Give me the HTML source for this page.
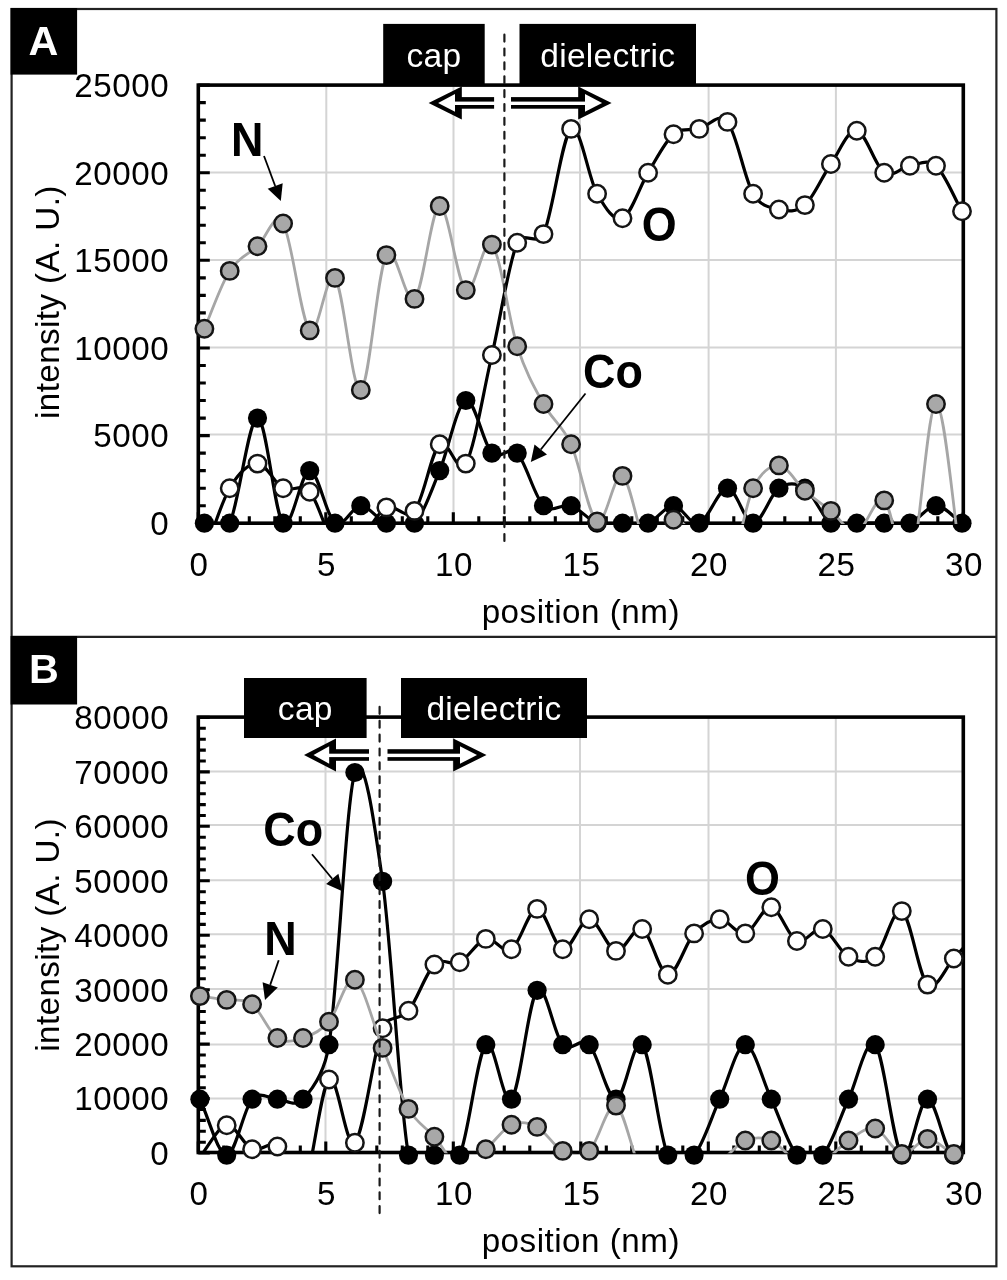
<!DOCTYPE html>
<html><head><meta charset="utf-8"><title>Figure</title>
<style>html,body{margin:0;padding:0;background:#fff}svg{display:block;filter:blur(0.55px)}</style></head>
<body>
<svg width="1007" height="1280" viewBox="0 0 1007 1280" font-family='"Liberation Sans", Arial, Helvetica, sans-serif' fill="#000">
<rect width="1007" height="1280" fill="#fff"/>
<rect x="11.6" y="9" width="984.8" height="1257.3" fill="none" stroke="#222" stroke-width="2.2"/>
<path d="M11.6,636.8H996.4" stroke="#222" stroke-width="2.2"/>
<rect x="10.6" y="8" width="66.5" height="66.6" fill="#000"/><text x="43.4" y="55.3" font-size="41.3" font-weight="bold" fill="#fff" text-anchor="middle">A</text>
<rect x="10.6" y="636" width="66.5" height="68.5" fill="#000"/><text x="43.9" y="683" font-size="41.3" font-weight="bold" fill="#fff" text-anchor="middle">B</text>
<clipPath id="clipA"><rect x="198.3" y="65.1" width="777.0" height="459.6"/></clipPath>
<clipPath id="cliplA"><rect x="198.3" y="85.1" width="765.0" height="438.90000000000003"/></clipPath>
<path d="M198.3,434.6H963.3 M198.3,347.6H963.3 M198.3,260.1H963.3 M198.3,172.4H963.3 M326.3,85.1V523.2 M453.5,85.1V523.2 M580.0,85.1V523.2 M708.6,85.1V523.2 M835.9,85.1V523.2" stroke="#d4d4d4" stroke-width="2" fill="none"/>
<path d="M198.3,523.2h11.5 M198.3,505.7h7.5 M198.3,488.2h7.5 M198.3,470.6h7.5 M198.3,453.1h7.5 M198.3,435.6h11.5 M198.3,418.1h7.5 M198.3,400.5h7.5 M198.3,383.0h7.5 M198.3,365.5h7.5 M198.3,348.0h11.5 M198.3,330.4h7.5 M198.3,312.9h7.5 M198.3,295.4h7.5 M198.3,277.9h7.5 M198.3,260.3h11.5 M198.3,242.8h7.5 M198.3,225.3h7.5 M198.3,207.8h7.5 M198.3,190.2h7.5 M198.3,172.7h11.5 M198.3,155.2h7.5 M198.3,137.7h7.5 M198.3,120.1h7.5 M198.3,102.6h7.5 M198.3,85.1h11.5 M198.3,523.2v-11 M223.8,523.2v-7 M249.3,523.2v-7 M274.8,523.2v-7 M300.3,523.2v-7 M325.8,523.2v-11 M351.3,523.2v-7 M376.8,523.2v-7 M402.3,523.2v-7 M427.8,523.2v-7 M453.3,523.2v-11 M478.8,523.2v-7 M504.3,523.2v-7 M529.8,523.2v-7 M555.3,523.2v-7 M580.8,523.2v-11 M606.3,523.2v-7 M631.8,523.2v-7 M657.3,523.2v-7 M682.8,523.2v-7 M708.3,523.2v-11 M733.8,523.2v-7 M759.3,523.2v-7 M784.8,523.2v-7 M810.3,523.2v-7 M835.8,523.2v-11 M861.3,523.2v-7 M886.8,523.2v-7 M912.3,523.2v-7 M937.8,523.2v-7 M963.3,523.2v-11" stroke="#000" stroke-width="3.1" fill="none"/>
<rect x="198.3" y="85.1" width="765.0" height="438.1" fill="none" stroke="#000" stroke-width="3.6"/>
<path d="M204.4,523.2 C212.8,523.2 224.0,534.5 229.7,523.2 C238.5,505.7 248.6,418.1 257.5,418.1 C266.4,418.1 274.4,514.4 283.1,523.2 C291.8,532.0 301.1,470.6 309.7,470.6 C318.3,470.6 326.5,517.4 335.0,523.2 C343.5,529.0 352.2,505.7 360.8,505.7 C369.4,505.7 377.4,520.3 386.4,523.2 C395.3,526.1 405.6,532.0 414.5,523.2 C423.4,514.4 431.1,491.1 439.7,470.6 C448.2,450.2 457.1,403.5 465.8,400.5 C474.5,397.6 483.3,444.3 491.9,453.1 C500.5,461.9 508.6,444.3 517.2,453.1 C525.8,461.9 534.5,496.9 543.5,505.7 C552.5,514.4 562.2,502.8 571.1,505.7 C580.0,508.6 588.5,520.3 597.1,523.2 C605.7,526.1 614.0,523.2 622.5,523.2 C631.0,523.2 639.6,526.1 648.1,523.2 C656.6,520.3 665.0,505.7 673.5,505.7 C682.0,505.7 690.2,526.1 699.2,523.2 C708.2,520.3 718.5,488.2 727.5,488.2 C736.5,488.2 744.5,523.2 753.1,523.2 C761.7,523.2 770.3,494.0 778.9,488.2 C787.5,482.3 796.2,482.3 804.9,488.2 C813.6,494.0 822.2,517.4 830.9,523.2 C839.5,529.0 847.9,523.2 856.8,523.2 C865.7,523.2 875.4,523.2 884.2,523.2 C893.1,523.2 901.3,526.1 909.9,523.2 C918.5,520.3 927.3,505.7 936.0,505.7 C944.7,505.7 953.3,517.4 962.0,523.2" stroke="#000" stroke-width="3.2" fill="none" stroke-linejoin="round" clip-path="url(#cliplA)"/>
<g fill="#000"><circle cx="204.4" cy="523.2" r="9.6"/><circle cx="229.7" cy="523.2" r="9.6"/><circle cx="257.5" cy="418.1" r="9.6"/><circle cx="283.1" cy="523.2" r="9.6"/><circle cx="309.7" cy="470.6" r="9.6"/><circle cx="335.0" cy="523.2" r="9.6"/><circle cx="360.8" cy="505.7" r="9.6"/><circle cx="386.4" cy="523.2" r="9.6"/><circle cx="414.5" cy="523.2" r="9.6"/><circle cx="439.7" cy="470.6" r="9.6"/><circle cx="465.8" cy="400.5" r="9.6"/><circle cx="491.9" cy="453.1" r="9.6"/><circle cx="517.2" cy="453.1" r="9.6"/><circle cx="543.5" cy="505.7" r="9.6"/><circle cx="571.1" cy="505.7" r="9.6"/><circle cx="597.1" cy="523.2" r="9.6"/><circle cx="622.5" cy="523.2" r="9.6"/><circle cx="648.1" cy="523.2" r="9.6"/><circle cx="673.5" cy="505.7" r="9.6"/><circle cx="699.2" cy="523.2" r="9.6"/><circle cx="727.5" cy="488.2" r="9.6"/><circle cx="753.1" cy="523.2" r="9.6"/><circle cx="778.9" cy="488.2" r="9.6"/><circle cx="804.9" cy="488.2" r="9.6"/><circle cx="830.9" cy="523.2" r="9.6"/><circle cx="856.8" cy="523.2" r="9.6"/><circle cx="884.2" cy="523.2" r="9.6"/><circle cx="909.9" cy="523.2" r="9.6"/><circle cx="936.0" cy="505.7" r="9.6"/><circle cx="962.0" cy="523.2" r="9.6"/></g>
<path d="M204.4,553.9 C212.8,532.0 220.8,503.2 229.7,488.2 C238.5,473.1 248.6,463.6 257.5,463.6 C266.4,463.6 274.4,483.5 283.1,488.2 C291.8,492.8 301.1,482.3 309.7,491.7 C318.3,501.0 326.5,536.6 335.0,544.2 C343.5,551.8 352.2,543.4 360.8,537.2 C369.4,531.1 377.4,511.8 386.4,507.4 C395.3,503.0 405.6,521.4 414.5,510.9 C423.4,500.4 431.1,452.2 439.7,444.3 C448.2,436.5 457.6,477.6 465.8,463.6 C474.5,448.7 483.3,391.8 491.9,355.0 C500.5,318.2 508.6,263.0 517.2,242.8 C522.6,230.1 537.6,246.6 543.5,234.1 C552.5,215.1 562.2,135.6 571.1,128.9 C580.0,122.2 588.5,178.9 597.1,193.7 C605.7,208.6 614.0,221.8 622.5,218.3 C631.0,214.8 639.6,186.7 648.1,172.7 C656.6,158.7 665.0,141.5 673.5,134.2 C682.0,126.9 690.2,131.0 699.2,128.9 C708.2,126.9 718.5,111.1 727.5,121.9 C736.5,132.7 744.5,179.1 753.1,193.7 C760.8,206.8 770.3,207.6 778.9,209.5 C787.5,211.4 796.2,212.7 804.9,205.1 C813.6,197.5 822.2,176.4 830.9,164.0 C839.5,151.5 847.9,129.2 856.8,130.7 C865.7,132.1 875.4,166.9 884.2,172.7 C893.1,178.6 901.3,166.9 909.9,165.7 C918.5,164.5 927.3,158.1 936.0,165.7 C944.7,173.3 953.3,196.1 962.0,211.3" stroke="#000" stroke-width="3.2" fill="none" stroke-linejoin="round" clip-path="url(#cliplA)"/>
<g fill="#fff" stroke="#151515" stroke-width="2.5"><circle cx="229.7" cy="488.2" r="8.7"/><circle cx="257.5" cy="463.6" r="8.7"/><circle cx="283.1" cy="488.2" r="8.7"/><circle cx="309.7" cy="491.7" r="8.7"/><circle cx="386.4" cy="507.4" r="8.7"/><circle cx="414.5" cy="510.9" r="8.7"/><circle cx="439.7" cy="444.3" r="8.7"/><circle cx="465.8" cy="463.6" r="8.7"/><circle cx="491.9" cy="355.0" r="8.7"/><circle cx="517.2" cy="242.8" r="8.7"/><circle cx="543.5" cy="234.1" r="8.7"/><circle cx="571.1" cy="128.9" r="8.7"/><circle cx="597.1" cy="193.7" r="8.7"/><circle cx="622.5" cy="218.3" r="8.7"/><circle cx="648.1" cy="172.7" r="8.7"/><circle cx="673.5" cy="134.2" r="8.7"/><circle cx="699.2" cy="128.9" r="8.7"/><circle cx="727.5" cy="121.9" r="8.7"/><circle cx="753.1" cy="193.7" r="8.7"/><circle cx="778.9" cy="209.5" r="8.7"/><circle cx="804.9" cy="205.1" r="8.7"/><circle cx="830.9" cy="164.0" r="8.7"/><circle cx="856.8" cy="130.7" r="8.7"/><circle cx="884.2" cy="172.7" r="8.7"/><circle cx="909.9" cy="165.7" r="8.7"/><circle cx="936.0" cy="165.7" r="8.7"/><circle cx="962.0" cy="211.3" r="8.7"/></g>
<path d="M204.4,328.7 C212.8,309.4 220.8,284.6 229.7,270.9 C238.5,257.1 248.6,254.2 257.5,246.3 C266.4,238.4 274.4,209.5 283.1,223.5 C291.8,237.6 301.1,321.4 309.7,330.4 C318.3,339.5 326.5,267.9 335.0,277.9 C343.5,287.8 352.2,393.8 360.8,390.0 C369.4,386.2 377.4,270.3 386.4,255.1 C395.3,239.9 405.6,307.1 414.5,298.9 C423.4,290.7 431.1,207.5 439.7,206.0 C448.2,204.6 457.1,283.7 465.8,290.1 C474.5,296.6 483.3,235.2 491.9,244.6 C500.5,253.9 508.6,319.6 517.2,346.2 C525.8,372.8 534.5,387.7 543.5,404.0 C552.5,420.4 562.2,424.8 571.1,444.3 C580.0,463.9 588.5,516.2 597.1,521.4 C605.7,526.7 614.0,471.2 622.5,475.9 C631.0,480.6 639.6,542.2 648.1,549.5 C656.6,556.8 665.0,521.2 673.5,519.7 C682.0,518.2 690.2,532.0 699.2,540.7 C708.2,549.5 718.5,581.0 727.5,572.3 C736.5,563.5 744.5,506.0 753.1,488.2 C760.6,472.6 770.3,464.9 778.9,465.4 C787.5,465.8 796.2,483.2 804.9,490.8 C813.6,498.4 822.2,504.1 830.9,510.9 C839.5,517.8 847.9,533.7 856.8,532.0 C865.7,530.2 875.4,494.0 884.2,500.4 C893.1,506.8 901.3,586.6 909.9,570.5 C918.5,554.5 927.3,404.3 936.0,404.0 C944.7,403.7 953.3,513.9 962.0,568.8" stroke="#a6a6a6" stroke-width="2.8" fill="none" stroke-linejoin="round" clip-path="url(#cliplA)"/>
<g fill="#a8a8a8" stroke="#151515" stroke-width="2.5"><circle cx="204.4" cy="328.7" r="8.7"/><circle cx="229.7" cy="270.9" r="8.7"/><circle cx="257.5" cy="246.3" r="8.7"/><circle cx="283.1" cy="223.5" r="8.7"/><circle cx="309.7" cy="330.4" r="8.7"/><circle cx="335.0" cy="277.9" r="8.7"/><circle cx="360.8" cy="390.0" r="8.7"/><circle cx="386.4" cy="255.1" r="8.7"/><circle cx="414.5" cy="298.9" r="8.7"/><circle cx="439.7" cy="206.0" r="8.7"/><circle cx="465.8" cy="290.1" r="8.7"/><circle cx="491.9" cy="244.6" r="8.7"/><circle cx="517.2" cy="346.2" r="8.7"/><circle cx="543.5" cy="404.0" r="8.7"/><circle cx="571.1" cy="444.3" r="8.7"/><circle cx="597.1" cy="521.4" r="8.7"/><circle cx="622.5" cy="475.9" r="8.7"/><circle cx="673.5" cy="519.7" r="8.7"/><circle cx="753.1" cy="488.2" r="8.7"/><circle cx="778.9" cy="465.4" r="8.7"/><circle cx="804.9" cy="490.8" r="8.7"/><circle cx="830.9" cy="510.9" r="8.7"/><circle cx="884.2" cy="500.4" r="8.7"/><circle cx="936.0" cy="404.0" r="8.7"/></g>
<rect x="383.2" y="23.9" width="101.5" height="61.50000000000001" fill="#000"/>
<text x="433.9" y="67.1" font-size="33.5" letter-spacing="0.3" fill="#fff" text-anchor="middle">cap</text>
<rect x="519.5" y="23.9" width="176.5" height="61.50000000000001" fill="#000"/>
<text x="607.8" y="67.1" font-size="33.5" letter-spacing="0.3" fill="#fff" text-anchor="middle">dielectric</text>
<path d="M504.4,34.7V542" stroke="#1a1a1a" stroke-width="2.2" stroke-linecap="round" stroke-dasharray="6.9 6.97" fill="none"/>
<polygon points="578.2,86.4 611.6,102.9 578.2,119.4" fill="#000"/><rect x="511" y="97.10000000000001" width="74.20000000000005" height="11.6" fill="#000"/><polygon points="585.0,94.10000000000001 602.1,102.9 585.0,111.7" fill="#fff"/><rect x="509.5" y="101.60000000000001" width="76.5" height="3.4" fill="#fff"/>
<polygon points="461.8,86.4 428.6,102.9 461.8,119.4" fill="#000"/><rect x="454.8" y="97.10000000000001" width="39.30000000000001" height="11.6" fill="#000"/><polygon points="455.0,94.10000000000001 438.1,102.9 455.0,111.7" fill="#fff"/><rect x="454.0" y="101.60000000000001" width="41.60000000000002" height="3.4" fill="#fff"/>
<text transform="translate(231,155.6) scale(0.935,1)" font-size="48" font-weight="bold">N</text>
<text transform="translate(641.7,241.2) scale(0.935,1)" font-size="48" font-weight="bold">O</text>
<text transform="translate(583,387.9) scale(0.935,1)" font-size="48" font-weight="bold">Co</text>
<path d="M264.0,156.0L275.2,186.0" stroke="#000" stroke-width="1.8" fill="none"/>
<polygon points="280.8,201.0 267.7,188.8 282.7,183.2" fill="#000"/>
<path d="M585.5,393.5L540.8,449.5" stroke="#000" stroke-width="1.8" fill="none"/>
<polygon points="530.8,462.0 534.5,444.5 547.0,454.5" fill="#000"/>
<text x="169.2" y="535.0" font-size="33.2" letter-spacing="0.55" text-anchor="end">0</text>
<text x="169.2" y="447.4" font-size="33.2" letter-spacing="0.55" text-anchor="end">5000</text>
<text x="169.2" y="359.8" font-size="33.2" letter-spacing="0.55" text-anchor="end">10000</text>
<text x="169.2" y="272.1" font-size="33.2" letter-spacing="0.55" text-anchor="end">15000</text>
<text x="169.2" y="184.5" font-size="33.2" letter-spacing="0.55" text-anchor="end">20000</text>
<text x="169.2" y="96.9" font-size="33.2" letter-spacing="0.55" text-anchor="end">25000</text>
<text x="199.0" y="575.5" font-size="33.2" letter-spacing="0.55" text-anchor="middle">0</text>
<text x="326.5" y="575.5" font-size="33.2" letter-spacing="0.55" text-anchor="middle">5</text>
<text x="454.0" y="575.5" font-size="33.2" letter-spacing="0.55" text-anchor="middle">10</text>
<text x="581.5" y="575.5" font-size="33.2" letter-spacing="0.55" text-anchor="middle">15</text>
<text x="709.0" y="575.5" font-size="33.2" letter-spacing="0.55" text-anchor="middle">20</text>
<text x="836.5" y="575.5" font-size="33.2" letter-spacing="0.55" text-anchor="middle">25</text>
<text x="964.0" y="575.5" font-size="33.2" letter-spacing="0.55" text-anchor="middle">30</text>
<text x="580.8" y="622.5" font-size="33.2" letter-spacing="0.5" text-anchor="middle">position (nm)</text>
<text transform="translate(58.5,302.1) rotate(-90)" font-size="33.2" letter-spacing="0.4" text-anchor="middle">intensity (A. U.)</text>
<clipPath id="clipB"><rect x="198.3" y="697.1" width="777.0" height="456.9"/></clipPath>
<clipPath id="cliplB"><rect x="198.3" y="717.1" width="765.0" height="436.2"/></clipPath>
<path d="M198.3,1098.6H963.3 M198.3,1044.6H963.3 M198.3,989.0H963.3 M198.3,934.3H963.3 M198.3,880.2H963.3 M198.3,825.0H963.3 M198.3,771.6H963.3 M325.5,717.1V1152.5 M453.6,717.1V1152.5 M580.0,717.1V1152.5 M708.5,717.1V1152.5 M835.8,717.1V1152.5" stroke="#d4d4d4" stroke-width="2" fill="none"/>
<path d="M198.3,1153.0h11.5 M198.3,1142.2h7.5 M198.3,1131.3h7.5 M198.3,1120.4h7.5 M198.3,1109.5h7.5 M198.3,1098.6h11.5 M198.3,1087.7h7.5 M198.3,1076.8h7.5 M198.3,1065.9h7.5 M198.3,1055.0h7.5 M198.3,1044.1h11.5 M198.3,1033.3h7.5 M198.3,1022.4h7.5 M198.3,1011.5h7.5 M198.3,1000.6h7.5 M198.3,989.7h11.5 M198.3,978.8h7.5 M198.3,967.9h7.5 M198.3,957.0h7.5 M198.3,946.1h7.5 M198.3,935.2h11.5 M198.3,924.4h7.5 M198.3,913.5h7.5 M198.3,902.6h7.5 M198.3,891.7h7.5 M198.3,880.8h11.5 M198.3,869.9h7.5 M198.3,859.0h7.5 M198.3,848.1h7.5 M198.3,837.2h7.5 M198.3,826.3h11.5 M198.3,815.5h7.5 M198.3,804.6h7.5 M198.3,793.7h7.5 M198.3,782.8h7.5 M198.3,771.9h11.5 M198.3,761.0h7.5 M198.3,750.1h7.5 M198.3,739.2h7.5 M198.3,728.3h7.5 M198.3,717.4h11.5 M198.3,1152.5v-11 M223.8,1152.5v-7 M249.3,1152.5v-7 M274.8,1152.5v-7 M300.3,1152.5v-7 M325.8,1152.5v-11 M351.3,1152.5v-7 M376.8,1152.5v-7 M402.3,1152.5v-7 M427.8,1152.5v-7 M453.3,1152.5v-11 M478.8,1152.5v-7 M504.3,1152.5v-7 M529.8,1152.5v-7 M555.3,1152.5v-7 M580.8,1152.5v-11 M606.3,1152.5v-7 M631.8,1152.5v-7 M657.3,1152.5v-7 M682.8,1152.5v-7 M708.3,1152.5v-11 M733.8,1152.5v-7 M759.3,1152.5v-7 M784.8,1152.5v-7 M810.3,1152.5v-7 M835.8,1152.5v-11 M861.3,1152.5v-7 M886.8,1152.5v-7 M912.3,1152.5v-7 M937.8,1152.5v-7 M963.3,1152.5v-11" stroke="#000" stroke-width="3.1" fill="none"/>
<rect x="198.3" y="717.1" width="765.0" height="435.4" fill="none" stroke="#000" stroke-width="3.6"/>
<path d="M199.9,1099.2 C208.8,1117.8 218.0,1155.1 226.7,1155.1 C235.4,1155.1 243.7,1108.5 252.1,1099.2 C260.6,1089.9 268.9,1099.2 277.4,1099.2 C285.9,1099.2 294.4,1108.3 303.0,1099.2 C311.6,1090.1 324.3,1074.5 329.0,1044.7 C337.6,990.3 346.0,799.7 354.9,772.5 C363.8,745.3 374.8,825.8 382.6,881.4 C391.5,945.2 399.9,1109.5 408.5,1155.1 C410.9,1167.8 425.9,1155.1 434.4,1155.1 C442.9,1155.1 454.4,1166.5 459.7,1155.1 C468.3,1136.7 477.2,1054.1 485.8,1044.7 C494.4,1035.4 502.9,1108.3 511.5,1099.2 C520.0,1090.1 528.6,999.4 537.1,990.3 C545.6,981.2 554.0,1035.7 562.7,1044.7 C571.4,1053.8 580.3,1035.7 589.2,1044.7 C598.1,1053.8 607.2,1099.2 616.0,1099.2 C624.8,1099.2 633.6,1035.4 642.2,1044.7 C650.8,1054.1 659.1,1136.7 667.8,1155.1 C673.4,1167.0 685.5,1164.4 694.1,1155.1 C702.8,1145.8 711.2,1117.6 719.7,1099.2 C728.2,1080.8 736.7,1044.7 745.3,1044.7 C753.9,1044.7 762.7,1080.8 771.3,1099.2 C779.9,1117.6 788.3,1145.8 796.9,1155.1 C805.5,1164.4 814.2,1164.4 822.8,1155.1 C831.4,1145.8 839.8,1117.6 848.5,1099.2 C857.2,1080.8 866.3,1035.4 875.2,1044.7 C884.1,1054.1 893.1,1146.0 901.8,1155.1 C910.5,1164.1 918.8,1099.2 927.5,1099.2 C936.2,1099.2 945.1,1155.1 953.8,1155.1 C962.5,1155.1 971.1,1117.8 979.8,1099.2" stroke="#000" stroke-width="3.2" fill="none" stroke-linejoin="round" clip-path="url(#cliplB)"/>
<g fill="#000"><circle cx="199.9" cy="1099.2" r="9.6"/><circle cx="226.7" cy="1155.1" r="9.6"/><circle cx="252.1" cy="1099.2" r="9.6"/><circle cx="277.4" cy="1099.2" r="9.6"/><circle cx="303.0" cy="1099.2" r="9.6"/><circle cx="329.0" cy="1044.7" r="9.6"/><circle cx="354.9" cy="772.5" r="9.6"/><circle cx="382.6" cy="881.4" r="9.6"/><circle cx="408.5" cy="1155.1" r="9.6"/><circle cx="434.4" cy="1155.1" r="9.6"/><circle cx="459.7" cy="1155.1" r="9.6"/><circle cx="485.8" cy="1044.7" r="9.6"/><circle cx="511.5" cy="1099.2" r="9.6"/><circle cx="537.1" cy="990.3" r="9.6"/><circle cx="562.7" cy="1044.7" r="9.6"/><circle cx="589.2" cy="1044.7" r="9.6"/><circle cx="616.0" cy="1099.2" r="9.6"/><circle cx="642.2" cy="1044.7" r="9.6"/><circle cx="667.8" cy="1155.1" r="9.6"/><circle cx="694.1" cy="1155.1" r="9.6"/><circle cx="719.7" cy="1099.2" r="9.6"/><circle cx="745.3" cy="1044.7" r="9.6"/><circle cx="771.3" cy="1099.2" r="9.6"/><circle cx="796.9" cy="1155.1" r="9.6"/><circle cx="822.8" cy="1155.1" r="9.6"/><circle cx="848.5" cy="1099.2" r="9.6"/><circle cx="875.2" cy="1044.7" r="9.6"/><circle cx="901.8" cy="1155.1" r="9.6"/><circle cx="927.5" cy="1099.2" r="9.6"/><circle cx="953.8" cy="1155.1" r="9.6"/></g>
<path d="M199.9,1156.9 C208.8,1146.3 218.0,1126.5 226.7,1125.2 C235.4,1124.0 243.7,1145.7 252.1,1149.2 C260.6,1152.8 268.9,1140.0 277.4,1146.5 C285.9,1153.0 294.4,1199.6 303.0,1188.5 C311.6,1177.3 320.4,1087.1 329.0,1079.5 C337.6,1071.8 346.0,1151.2 354.9,1142.7 C363.8,1134.2 373.7,1050.2 382.6,1028.2 C388.5,1013.8 399.9,1021.4 408.5,1010.8 C417.1,1000.2 425.9,972.6 434.4,964.5 C442.9,956.4 451.1,966.6 459.7,962.3 C468.3,958.0 477.2,941.0 485.8,938.9 C494.4,936.7 502.9,954.2 511.5,949.2 C520.0,944.2 528.6,908.9 537.1,908.9 C545.6,908.9 554.0,947.5 562.7,949.2 C571.4,950.9 580.3,919.0 589.2,919.2 C598.1,919.5 607.2,949.2 616.0,950.9 C624.8,952.5 633.6,925.1 642.2,929.0 C650.8,933.0 659.1,974.1 667.8,974.8 C676.4,975.6 685.5,942.7 694.1,933.4 C702.8,924.1 711.2,919.2 719.7,919.2 C728.2,919.2 736.7,935.4 745.3,933.4 C753.9,931.4 762.7,906.0 771.3,907.2 C779.9,908.5 788.3,937.4 796.9,941.0 C805.5,944.7 814.2,926.4 822.8,929.0 C831.4,931.7 839.8,952.2 848.5,956.8 C857.2,961.5 866.3,964.5 875.2,956.8 C884.1,949.2 893.1,906.4 901.8,911.1 C910.5,915.7 918.8,976.7 927.5,984.6 C936.2,992.5 945.1,967.7 953.8,958.5 C962.5,949.2 971.1,938.9 979.8,929.0" stroke="#000" stroke-width="3.2" fill="none" stroke-linejoin="round" clip-path="url(#cliplB)"/>
<g fill="#fff" stroke="#151515" stroke-width="2.5"><circle cx="226.7" cy="1125.2" r="8.7"/><circle cx="252.1" cy="1149.2" r="8.7"/><circle cx="277.4" cy="1146.5" r="8.7"/><circle cx="329.0" cy="1079.5" r="8.7"/><circle cx="354.9" cy="1142.7" r="8.7"/><circle cx="382.6" cy="1028.2" r="8.7"/><circle cx="408.5" cy="1010.8" r="8.7"/><circle cx="434.4" cy="964.5" r="8.7"/><circle cx="459.7" cy="962.3" r="8.7"/><circle cx="485.8" cy="938.9" r="8.7"/><circle cx="511.5" cy="949.2" r="8.7"/><circle cx="537.1" cy="908.9" r="8.7"/><circle cx="562.7" cy="949.2" r="8.7"/><circle cx="589.2" cy="919.2" r="8.7"/><circle cx="616.0" cy="950.9" r="8.7"/><circle cx="642.2" cy="929.0" r="8.7"/><circle cx="667.8" cy="974.8" r="8.7"/><circle cx="694.1" cy="933.4" r="8.7"/><circle cx="719.7" cy="919.2" r="8.7"/><circle cx="745.3" cy="933.4" r="8.7"/><circle cx="771.3" cy="907.2" r="8.7"/><circle cx="796.9" cy="941.0" r="8.7"/><circle cx="822.8" cy="929.0" r="8.7"/><circle cx="848.5" cy="956.8" r="8.7"/><circle cx="875.2" cy="956.8" r="8.7"/><circle cx="901.8" cy="911.1" r="8.7"/><circle cx="927.5" cy="984.6" r="8.7"/><circle cx="953.8" cy="958.5" r="8.7"/></g>
<path d="M199.9,996.1 C208.8,997.4 218.0,998.5 226.7,999.9 C235.4,1001.3 243.7,997.9 252.1,1004.3 C260.6,1010.6 268.9,1032.4 277.4,1038.0 C285.9,1043.7 294.4,1040.8 303.0,1038.0 C311.6,1035.3 320.4,1031.4 329.0,1021.7 C337.6,1012.0 346.0,975.4 354.9,979.7 C363.8,984.1 373.7,1026.3 382.6,1047.9 C391.5,1069.4 399.9,1094.1 408.5,1108.9 C417.1,1123.7 425.9,1127.1 434.4,1136.7 C442.9,1146.3 451.1,1164.6 459.7,1166.7 C468.3,1168.8 477.2,1156.2 485.8,1149.2 C494.4,1142.2 502.9,1128.4 511.5,1124.7 C520.0,1121.0 528.6,1122.5 537.1,1126.9 C545.6,1131.2 554.0,1146.9 562.7,1150.9 C571.4,1154.9 580.3,1158.4 589.2,1150.9 C598.1,1143.3 607.2,1102.1 616.0,1105.6 C624.8,1109.2 633.6,1161.9 642.2,1172.1 C650.7,1182.1 659.1,1167.6 667.8,1166.7 C676.4,1165.8 685.5,1167.6 694.1,1166.7 C702.8,1165.8 711.2,1165.6 719.7,1161.2 C728.2,1156.9 736.7,1144.0 745.3,1140.5 C753.9,1137.1 762.7,1137.1 771.3,1140.5 C779.9,1144.0 788.3,1157.8 796.9,1161.2 C805.5,1164.7 814.2,1164.7 822.8,1161.2 C831.4,1157.8 839.8,1146.0 848.5,1140.5 C857.2,1135.1 866.3,1126.3 875.2,1128.5 C884.1,1130.7 893.1,1152.1 901.8,1153.9 C910.5,1155.6 918.8,1138.9 927.5,1138.9 C936.2,1138.9 945.1,1150.1 953.8,1153.9 C962.5,1157.6 971.1,1158.8 979.8,1161.2" stroke="#a6a6a6" stroke-width="2.8" fill="none" stroke-linejoin="round" clip-path="url(#cliplB)"/>
<g fill="#a8a8a8" stroke="#151515" stroke-width="2.5"><circle cx="199.9" cy="996.1" r="8.7"/><circle cx="226.7" cy="999.9" r="8.7"/><circle cx="252.1" cy="1004.3" r="8.7"/><circle cx="277.4" cy="1038.0" r="8.7"/><circle cx="303.0" cy="1038.0" r="8.7"/><circle cx="329.0" cy="1021.7" r="8.7"/><circle cx="354.9" cy="979.7" r="8.7"/><circle cx="382.6" cy="1047.9" r="8.7"/><circle cx="408.5" cy="1108.9" r="8.7"/><circle cx="434.4" cy="1136.7" r="8.7"/><circle cx="485.8" cy="1149.2" r="8.7"/><circle cx="511.5" cy="1124.7" r="8.7"/><circle cx="537.1" cy="1126.9" r="8.7"/><circle cx="562.7" cy="1150.9" r="8.7"/><circle cx="589.2" cy="1150.9" r="8.7"/><circle cx="616.0" cy="1105.6" r="8.7"/><circle cx="745.3" cy="1140.5" r="8.7"/><circle cx="771.3" cy="1140.5" r="8.7"/><circle cx="848.5" cy="1140.5" r="8.7"/><circle cx="875.2" cy="1128.5" r="8.7"/><circle cx="901.8" cy="1153.9" r="8.7"/><circle cx="927.5" cy="1138.9" r="8.7"/><circle cx="953.8" cy="1153.9" r="8.7"/></g>
<rect x="244" y="678" width="122.60000000000002" height="60" fill="#000"/>
<text x="305.3" y="720.4" font-size="33.5" letter-spacing="0.3" fill="#fff" text-anchor="middle">cap</text>
<rect x="401" y="678" width="186" height="60" fill="#000"/>
<text x="494.0" y="720.4" font-size="33.5" letter-spacing="0.3" fill="#fff" text-anchor="middle">dielectric</text>
<path d="M379.6,706.9V1215" stroke="#1a1a1a" stroke-width="2.2" stroke-linecap="round" stroke-dasharray="6.9 6.97" fill="none"/>
<polygon points="453.2,738.5 486.5,755 453.2,771.5" fill="#000"/><rect x="387.5" y="749.2" width="72.69999999999999" height="11.6" fill="#000"/><polygon points="460.0,746.2 477.0,755 460.0,763.8" fill="#fff"/><rect x="386.0" y="753.7" width="75.0" height="3.4" fill="#fff"/>
<polygon points="336,738.5 304,755 336,771.5" fill="#000"/><rect x="329" y="749.2" width="40" height="11.6" fill="#000"/><polygon points="329.2,746.2 313.5,755 329.2,763.8" fill="#fff"/><rect x="328.2" y="753.7" width="42.30000000000001" height="3.4" fill="#fff"/>
<text transform="translate(264.2,954.6) scale(0.935,1)" font-size="48" font-weight="bold">N</text>
<text transform="translate(745,895) scale(0.935,1)" font-size="48" font-weight="bold">O</text>
<text transform="translate(263.3,846.2) scale(0.935,1)" font-size="48" font-weight="bold">Co</text>
<path d="M278.7,960.2L270.2,984.9" stroke="#000" stroke-width="1.8" fill="none"/>
<polygon points="265.0,1000.0 262.6,982.3 277.8,987.5" fill="#000"/>
<path d="M312.0,854.2L332.2,878.8" stroke="#000" stroke-width="1.8" fill="none"/>
<polygon points="342.4,891.2 326.1,883.9 338.4,873.8" fill="#000"/>
<text x="169.2" y="1164.8" font-size="33.2" letter-spacing="0.55" text-anchor="end">0</text>
<text x="169.2" y="1110.4" font-size="33.2" letter-spacing="0.55" text-anchor="end">10000</text>
<text x="169.2" y="1055.9" font-size="33.2" letter-spacing="0.55" text-anchor="end">20000</text>
<text x="169.2" y="1001.5" font-size="33.2" letter-spacing="0.55" text-anchor="end">30000</text>
<text x="169.2" y="947.0" font-size="33.2" letter-spacing="0.55" text-anchor="end">40000</text>
<text x="169.2" y="892.6" font-size="33.2" letter-spacing="0.55" text-anchor="end">50000</text>
<text x="169.2" y="838.1" font-size="33.2" letter-spacing="0.55" text-anchor="end">60000</text>
<text x="169.2" y="783.7" font-size="33.2" letter-spacing="0.55" text-anchor="end">70000</text>
<text x="169.2" y="729.2" font-size="33.2" letter-spacing="0.55" text-anchor="end">80000</text>
<text x="199.0" y="1204.8" font-size="33.2" letter-spacing="0.55" text-anchor="middle">0</text>
<text x="326.5" y="1204.8" font-size="33.2" letter-spacing="0.55" text-anchor="middle">5</text>
<text x="454.0" y="1204.8" font-size="33.2" letter-spacing="0.55" text-anchor="middle">10</text>
<text x="581.5" y="1204.8" font-size="33.2" letter-spacing="0.55" text-anchor="middle">15</text>
<text x="709.0" y="1204.8" font-size="33.2" letter-spacing="0.55" text-anchor="middle">20</text>
<text x="836.5" y="1204.8" font-size="33.2" letter-spacing="0.55" text-anchor="middle">25</text>
<text x="964.0" y="1204.8" font-size="33.2" letter-spacing="0.55" text-anchor="middle">30</text>
<text x="580.8" y="1251.8" font-size="33.2" letter-spacing="0.5" text-anchor="middle">position (nm)</text>
<text transform="translate(58.5,934.9) rotate(-90)" font-size="33.2" letter-spacing="0.4" text-anchor="middle">intensity (A. U.)</text>
</svg>
</body></html>
